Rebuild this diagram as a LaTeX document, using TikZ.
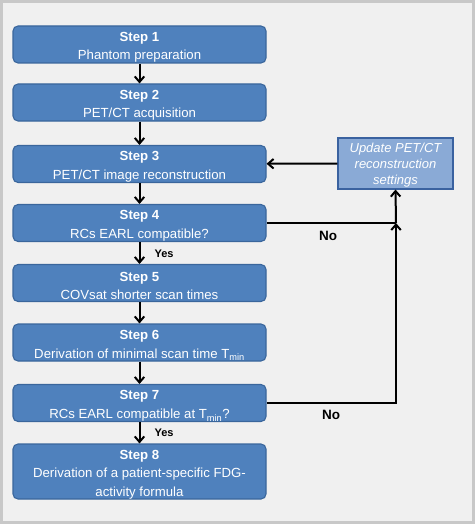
\documentclass[tikz,border=0pt]{standalone}
\usepackage{fontspec}
\setmainfont{Liberation Sans}
\usetikzlibrary{arrows.meta}
\definecolor{boxfill}{HTML}{4F81BD}
\definecolor{boxline}{HTML}{3A669C}
\definecolor{updfill}{HTML}{8AAAD6}
\definecolor{updline}{HTML}{3A62A0}
\definecolor{bgin}{HTML}{F0F0F0}
\definecolor{bgout}{HTML}{C8C8C8}
\tikzset{
  stepbox/.style={draw=boxline, line width=1.1pt, fill=boxfill, rounded corners=5pt,
    minimum width=253pt, minimum height=37pt, inner sep=0pt},
  steptext/.style={inner sep=0pt, align=center, text=white,
    font=\fontsize{13.2}{18.5}\selectfont},
  updbox/.style={draw=updline, line width=1.1pt, fill=updfill,
    minimum width=115pt, minimum height=51pt, inner sep=0pt},
  updtext/.style={inner sep=0pt, align=center, text=white,
    font=\fontsize{13}{16}\selectfont\itshape},
  flow/.style={line width=2pt, -{Straight Barb[length=5.5pt,width=9.5pt,line width=2pt]}},
  plain/.style={line width=2pt},
  lab/.style={font=\bfseries\fontsize{13.5}{15}\selectfont, inner sep=0pt},
  ylab/.style={font=\bfseries\fontsize{11}{13}\selectfont, inner sep=0pt},
}
\begin{document}
\begin{tikzpicture}[x=1pt,y=-1pt]
\useasboundingbox (0,0) rectangle (475,524);
\fill[bgout] (0,0) rectangle (475,524);
\fill[bgin] (3,3) rectangle (472,521);
\node[stepbox] (s1) at (139.5,44.5) {};
\node[stepbox] (s2) at (139.5,102.5) {};
\node[stepbox] (s3) at (139.5,164) {};
\node[stepbox] (s4) at (139.5,223) {};
\node[stepbox] (s5) at (139.5,283) {};
\node[stepbox] (s6) at (139.5,342.5) {};
\node[stepbox] (s7) at (139.5,403) {};
\node[stepbox, minimum height=55pt] (s8) at (139.5,471.5) {};
\node[updbox] (upd) at (395.5,163.5) {};
\node[steptext] (t1) at ([yshift=-3pt]s1.center) {\textbf{Step 1}\\Phantom preparation};
\node[steptext] (t2) at ([yshift=-3pt]s2.center) {\textbf{Step 2}\\PET/CT acquisition};
\node[steptext] (t3) at ([yshift=-3pt]s3.center) {\textbf{Step 3}\\PET/CT image reconstruction};
\node[steptext] (t4) at ([yshift=-3pt]s4.center) {\textbf{Step 4}\\RCs EARL compatible?};
\node[steptext] (t5) at ([yshift=-3pt]s5.center) {\textbf{Step 5}\\COVsat shorter scan times};
\node[steptext] (t6) at ([yshift=-3pt]s6.center) {\textbf{Step 6}\\Derivation of minimal scan time T\textsubscript{min}};
\node[steptext] (t7) at ([yshift=-3pt]s7.center) {\textbf{Step 7}\\RCs EARL compatible at T\textsubscript{min}?};
\node[steptext] (t8) at ([yshift=-3pt]s8.center) {\textbf{Step 8}\\Derivation of a patient-specific FDG-\\activity formula};
\node[updtext] (tu) at ([yshift=-1.5pt]upd.center) {Update PET/CT\\reconstruction\\settings};
\coordinate (j4) at (396,223);
\coordinate (j7) at (396,403);
\draw[flow] (s1) -- (s2);
\draw[flow] (s2) -- (s3);
\draw[flow] (s3) -- (s4);
\draw[flow] (s4) -- (s5);
\draw[flow] (s5) -- (s6);
\draw[flow] (s6) -- (s7);
\draw[flow] (s7) -- (s8);
\draw[flow] (upd) -- (s3);
\draw[plain] (s4.east) -- (j4);
\draw[flow] (s7.east) -- (j7) -- (j4);
\draw[flow] (j4) -- (upd.south);
\node[lab] (no1) at (328,236) {No};
\node[lab] (no2) at (331,415) {No};
\node[ylab] (yes1) at (164,254) {Yes};
\node[ylab] (yes2) at (164,433) {Yes};
\end{tikzpicture}
\end{document}
